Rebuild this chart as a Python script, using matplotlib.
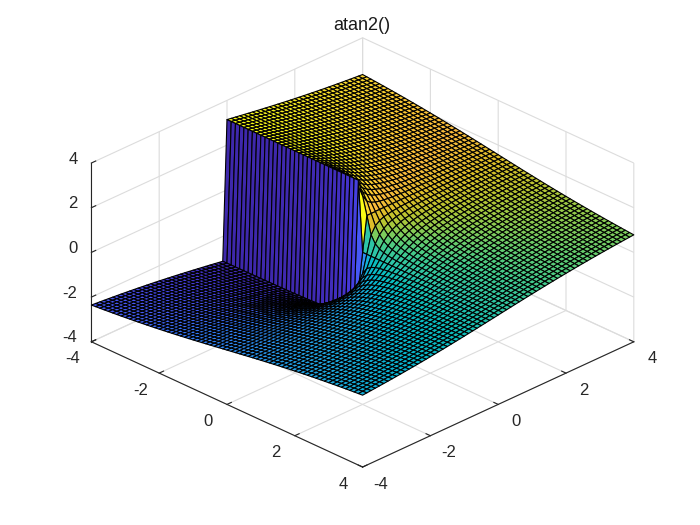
import numpy as np
import matplotlib
matplotlib.use("Agg")
import matplotlib.pyplot as plt
from matplotlib.colors import LinearSegmentedColormap, Normalize

plt.rcParams["font.family"] = ["Liberation Sans", "DejaVu Sans"]
plt.rcParams["axes.unicode_minus"] = False

tick_values = [-4, -2, 0, 2, 4]
tick_labels = ["-4", "-2", "0", "2", "4"]
grid_step = 0.125
parula_colors = [
    (0.2422, 0.1504, 0.6603), (0.2706, 0.2147, 0.8364), (0.2813, 0.3006, 0.9414),
    (0.2699, 0.3892, 0.9906), (0.1963, 0.4847, 0.9892), (0.1764, 0.5499, 0.9520),
    (0.1460, 0.6091, 0.9079), (0.1113, 0.6635, 0.8763), (0.0297, 0.7082, 0.8163),
    (0.0433, 0.7411, 0.7394), (0.1717, 0.7670, 0.6554), (0.2470, 0.7918, 0.5567),
    (0.3909, 0.8029, 0.4354), (0.5616, 0.7942, 0.3045), (0.7242, 0.7698, 0.1910),
    (0.8634, 0.7406, 0.1596), (0.9728, 0.7298, 0.2394), (0.9952, 0.7893, 0.2028),
    (0.9676, 0.8639, 0.1643), (0.9628, 0.9373, 0.1265), (0.9769, 0.9839, 0.0805),
]

# the surface is the function named in the title, not values read off the image
x = np.arange(-4, 4 + grid_step, grid_step)
y = np.arange(-4, 4 + grid_step, grid_step)
X, Y = np.meshgrid(x, y)
Z = np.arctan2(Y, X)

parula = LinearSegmentedColormap.from_list("parula", parula_colors)
colors = parula(Normalize(-np.pi, np.pi)(Z))

fig = plt.figure(figsize=(7, 5.25), dpi=100)
ax = fig.add_axes([93 / 700, 3 / 525, 525 / 700, 1], projection="3d", proj_type="ortho",
                  computed_zorder=False)
ax.view_init(elev=27.5, azim=-45)
ax.set_box_aspect((1, 1, 0.5255), zoom=1.07)
ax.patch.set_alpha(0)

# one strip per row, far side first, so the wall at y=0 hides what is behind it
n_rows = len(y) - 1
for i in range(n_rows):
    strip = ax.plot_surface(X[i:i + 2], Y[i:i + 2], Z[i:i + 2], facecolors=colors[i:i + 2],
                            rstride=1, cstride=1, shade=False, edgecolor="black",
                            linewidth=0.8, zorder=n_rows - i)
    strip.set_clip_on(False)

ax.set_xlim(-4, 4, view_margin=0)
ax.set_ylim(-4, 4, view_margin=0)
ax.set_zlim(-4, 4, view_margin=0)
ax.set_xticks(tick_values, labels=tick_labels)
ax.set_yticks(tick_values, labels=tick_labels)
ax.set_zticks(tick_values, labels=tick_labels)
ax.zaxis.set_ticks_position("lower")

for axis in (ax.xaxis, ax.yaxis, ax.zaxis):
    axis.set_pane_color((1, 1, 1, 0))
    axis.pane.set_edgecolor((1, 1, 1, 0))
    axis.line.set_color("#262626")
    axis.line.set_linewidth(0.8)
    axis._axinfo["grid"]["color"] = "#dcdcdc"
    axis._axinfo["grid"]["linewidth"] = 0.8
    axis._axinfo["tick"]["inward_factor"] = 0
    axis._axinfo["tick"]["outward_factor"] = 0.2
    axis.set_tick_params(colors="#262626", width=0.8)
    for tick in axis.get_major_ticks():
        tick.label1.set_visible(False)
        tick.label2.set_visible(False)

# tick labels as 3d text, mplot3d's own ones can't be nudged off the tick direction
for t, label in zip(tick_values, tick_labels):
    ax.text(t, -4.56, -4.37, label, ha="center", va="center", fontsize=12, color="#262626")
    ax.text(4.53, t, -4.39, label, ha="center", va="center", fontsize=12, color="#262626")
    ax.text(-4.41, -4, t - 0.11, label, ha="right", va="center", fontsize=12, color="#262626")

fig.text(362 / 700, 1 - 25 / 525, "atan2()", ha="center", va="center", fontsize=13, color="#1a1a1a")

fig.savefig("out.png", dpi=100)
